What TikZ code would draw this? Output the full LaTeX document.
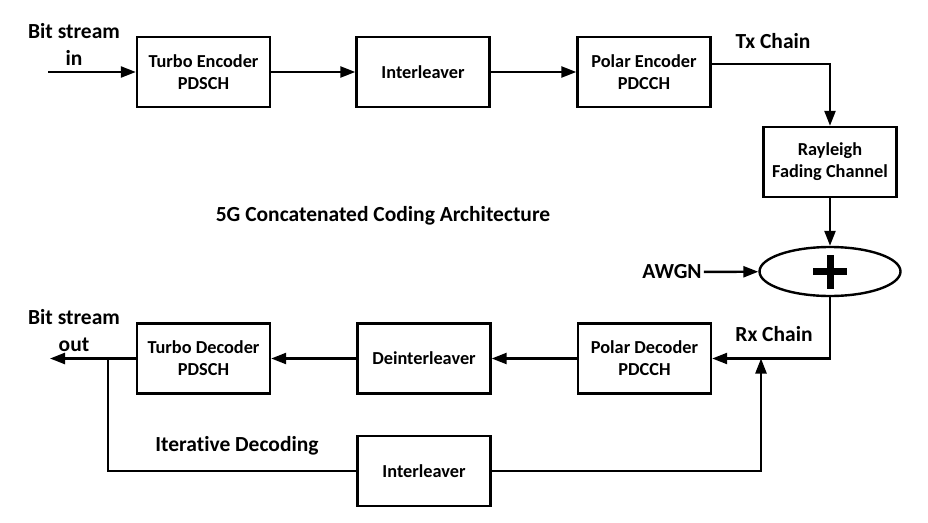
\documentclass[tikz,border=0pt]{standalone}
\usepackage{fontspec}
\setmainfont[Ligatures=NoCommon]{Carlito}
\usetikzlibrary{arrows.meta,shapes.geometric}

\begin{document}
\begin{tikzpicture}[x=1pt,y=-1pt,line width=2.4pt,
  blk/.style={draw,minimum width=133pt,minimum height=70pt,align=center,
    font=\fontsize{18.3}{22}\selectfont\bfseries},
  lbl/.style={align=center,font=\fontsize{21.5}{27}\selectfont\bfseries},
  >={Triangle[length=15pt,width=11pt]}]
\useasboundingbox (0,0) rectangle (928,522);
% Tx chain
\node[blk] (tenc) at (203.5,72) {Turbo Encoder\\PDSCH};
\node[blk] (ilv) at (423,72) {Interleaver};
\node[blk] (penc) at (644,72) {Polar Encoder\\PDCCH};
\node[blk] (ray) at (830,162) {Rayleigh\\Fading Channel};
\node[draw,ellipse,minimum width=141pt,minimum height=49pt] (sum) at (830,271.5) {};
\draw[line width=7pt] ([xshift=-17pt]sum.center) -- ([xshift=17pt]sum.center);
\draw[line width=7pt] ([yshift=-17pt]sum.center) -- ([yshift=17pt]sum.center);
% Rx chain
\node[blk] (pdec) at (644.5,358.5) {Polar Decoder\\PDCCH};
\node[blk] (dilv) at (424,358.5) {Deinterleaver};
\node[blk] (tdec) at (203.5,358.5) {Turbo Decoder\\PDSCH};
\node[blk] (ilv2) at (424,471) {Interleaver};
% labels
\node[lbl] (bin) at (74,44) {Bit stream\\in};
\node[lbl] (bout) at (74,331) {Bit stream\\out};
\node[lbl] (tx) at (773,41) {Tx Chain};
\node[lbl] (rx) at (774,334) {Rx Chain};
\node[lbl,inner xsep=1pt] (awgn) at (672,272) {AWGN};
\node[lbl] (title) at (383,216) {5G Concatenated Coding Architecture};
\node[lbl] (iter) at (237,446) {Iterative Decoding};
\coordinate (in) at (48,72);
\coordinate (out) at (50,358.5);
\coordinate (br) at (108,358.5);
\coordinate (fb) at (761,358.5);
% connectors
\draw[->] (in) -- (tenc);
\draw[->] (tenc) -- (ilv);
\draw[->] (ilv) -- (penc);
\draw[->] ([yshift=8pt]penc.east) -| (ray);
\draw[->] (ray) -- (sum);
\draw[->] (awgn) -- (sum);
\draw[->] (sum) |- (pdec);
\draw[->] (pdec) -- (dilv);
\draw[->] (dilv) -- (tdec);
\draw[->] (tdec) -- (out);
\draw (br) |- (ilv2);
\draw[->] (ilv2) -| (fb);
\end{tikzpicture}
\end{document}
